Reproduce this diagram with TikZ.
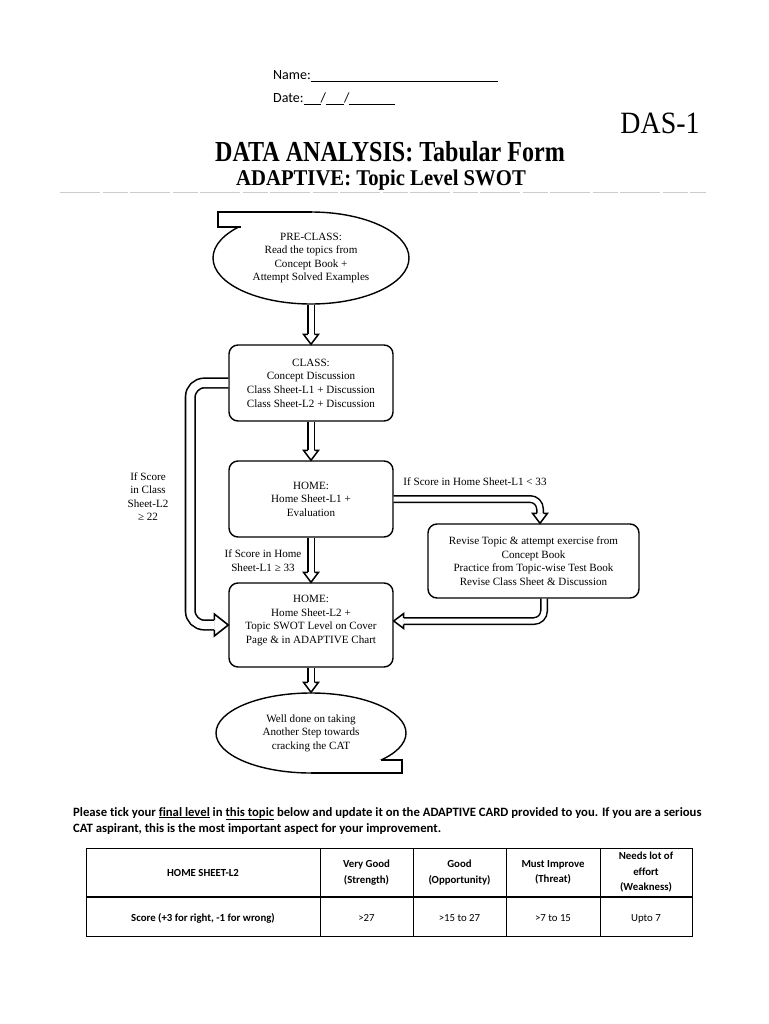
\documentclass[tikz,border=0pt]{standalone}
\usepackage{fontspec}
\usepackage{graphicx}
\setmainfont{Liberation Serif}
\newfontfamily\calib[Ligatures=NoCommon]{Carlito}
\usetikzlibrary{shapes.geometric,calc}
\newcommand\myrule[1]{\rule[-1.8pt]{#1}{0.6pt}}
\newcommand\fsz{\fontsize{11.1}{13.6}\selectfont}
\newcommand\tsz{\calib\fontsize{10.8}{15.5}\selectfont}
\begin{document}
\begin{tikzpicture}[x=1pt,y=-1pt,
  box/.style={draw, line width=1.4pt, rounded corners=9pt, align=center, font=\fsz, inner sep=2pt},
  oval/.style={draw, ellipse, line width=1.4pt, align=center, font=\fsz, inner sep=0pt},
  lbl/.style={align=center, font=\fsz, inner sep=0pt},
  shaft/.style={draw, line width=1.5pt, double=white, double distance=5pt},
  loopshaft/.style={draw, line width=1.6pt, double=white, double distance=8pt},
  cell/.style={align=center, font=\tsz, inner sep=0pt},
  pics/smallhead/.style={code={\draw[line width=1.5pt, fill=white, line join=miter] (-3.25,-10) -- (-7.5,-10) -- (0,0) -- (7.5,-10) -- (3.25,-10);}},
  pics/bighead/.style={code={\draw[line width=1.6pt, fill=white, line join=miter] (-4.8,-14) -- (-11,-14) -- (0,0) -- (11,-14) -- (4.8,-14);}}
]
\useasboundingbox[fill=white] (0,0) rectangle (768,1024);

% header
\node[anchor=base west, font=\calib\fontsize{14}{16}\selectfont, inner sep=0pt] (name) at (273,80) {Name:\myrule{187pt}};
\node[anchor=base west, font=\calib\fontsize{14}{16}\selectfont, inner sep=0pt] (date) at (273,103) {Date:\myrule{17pt}/\myrule{18pt}/\myrule{46pt}};
\node[anchor=base, font=\fontsize{31}{31}\selectfont, inner sep=0pt] (das) at (660,134) {\scalebox{0.9}[1]{DAS-1}};
\node[anchor=base, font=\bfseries\fontsize{29}{29}\selectfont, inner sep=0pt] (title) at (390,162) {\scalebox{0.83}[1]{DATA ANALYSIS: Tabular Form}};
\node[anchor=base, font=\bfseries\fontsize{22.5}{22.5}\selectfont, inner sep=0pt] (subtitle) at (381,186) {\scalebox{0.92}[1]{ADAPTIVE: Topic Level SWOT}};
\draw[gray!40, line width=0.7pt, dash pattern=on 40pt off 3pt on 25pt off 2pt] (60,192) -- (706,192);

% flowchart nodes
\node[oval, minimum width=196pt, minimum height=92pt] (pre) at (311,258) {PRE-CLASS:\\Read the topics from\\Concept Book +\\Attempt Solved Examples};
\fill[white] (218.8,212.8) -- (312,212.8) -- (240,228.2) -- cycle;
\draw[line width=1.4pt] (312,212) -- (218,212) -- (218,227) -- (241,227);

\node[box, minimum width=164pt, minimum height=76pt] (class) at (311,383) {CLASS:\\Concept Discussion\\Class Sheet-L1 + Discussion\\Class Sheet-L2 + Discussion};
\node[box, minimum width=164pt, minimum height=76pt] (home1) at (311,499) {HOME:\\Home Sheet-L1 +\\Evaluation};
\node[box, minimum width=164pt, minimum height=84pt] (home2) at (311,625) {HOME:\\Home Sheet-L2 +\\Topic SWOT Level on Cover\\Page \& in ADAPTIVE Chart\\[-2pt]~};
\node[box, minimum width=211pt, minimum height=74pt] (revise) at (533.5,561) {Revise Topic \& attempt exercise from\\Concept Book\\Practice from Topic-wise Test Book\\Revise Class Sheet \& Discussion};

\node[oval, minimum width=190pt, minimum height=80pt] (fin) at (311,733) {Well done on taking\\Another Step towards\\cracking the CAT};
\fill[white] (311,772.2) -- (401.2,772.2) -- (382,759.3) -- cycle;
\draw[line width=1.4pt] (311,773) -- (402,773) -- (402,760) -- (381,760);

% labels
\node[lbl] (l1) at (475,482) {If Score in Home Sheet-L1 < 33};
\node[lbl] (l2) at (263,560.5) {If Score in Home\\Sheet-L1 ≥ 33};
\node[lbl] (l3) at (148,496.5) {If Score\\in Class\\Sheet-L2\\≥ 22};

% connectors
\draw[shaft] (pre.south) -- ($(class.north)+(0,-10)$);
\pic at (class.north) {smallhead};
\draw[shaft] (class.south) -- ($(home1.north)+(0,-10)$);
\pic at (home1.north) {smallhead};
\draw[shaft] (home1.south) -- ($(home2.north)+(0,-10)$);
\pic at (home2.north) {smallhead};
\draw[shaft] (home2.south) -- ($(fin.north)+(0,-10)$);
\pic at (fin.north) {smallhead};

\draw[shaft, rounded corners=10pt] (home1.east) -| ($(revise.north)+(6.5,-10)$);
\pic at ($(revise.north)+(6.5,0)$) {smallhead};

\draw[shaft, rounded corners=10pt] ($(revise.south)+(10.5,0)$) |- ($(home2.east)+(10,-4)$);
\pic[rotate=-90] at ($(home2.east)+(0,-4)$) {smallhead};

\draw[loopshaft, rounded corners=14pt] (class.west) -- ++(-38,0) |- ($(home2.west)+(-14,0)$);
\pic[rotate=90] at (home2.west) {bighead};

% paragraph
\node[anchor=base west, font=\calib\bfseries\fontsize{12.7}{15}\selectfont, inner sep=0pt] (p1) at (73,816) {Please tick your \underline{final level} in \underline{this topic} below and update it on the ADAPTIVE CARD provided to you. If you are a serious};
\node[anchor=base west, font=\calib\bfseries\fontsize{12.7}{15}\selectfont, inner sep=0pt] (p2) at (73,832) {CAT aspirant, this is the most important aspect for your improvement.};

% table
\draw[line width=1pt] (86,848) rectangle (692,936);
\draw[line width=1pt] (320,848) -- (320,936) (413,848) -- (413,936) (506,848) -- (506,936) (600,848) -- (600,936);
\draw[line width=2pt] (86,897) -- (692,897);
\node[cell, font=\tsz\bfseries] (c11) at (203,872.5) {HOME SHEET-L2};
\node[cell, font=\tsz\bfseries] (c12) at (366.5,872.5) {Very Good\\(Strength)};
\node[cell, font=\tsz\bfseries] (c13) at (459.5,872.5) {Good\\(Opportunity)};
\node[cell, font=\tsz\bfseries] (c14) at (553,872.5) {Must Improve\\(Threat)};
\node[cell, font=\tsz\bfseries] (c15) at (646,872.5) {Needs lot of\\effort\\(Weakness)};
\node[cell, font=\tsz\bfseries, anchor=base] (c21) at (203,921.5) {Score (+3 for right, -1 for wrong)};
\node[cell, anchor=base] (c22) at (366.5,921.5) {>27};
\node[cell, anchor=base] (c23) at (459.5,921.5) {>15 to 27};
\node[cell, anchor=base] (c24) at (553,921.5) {>7 to 15};
\node[cell, anchor=base] (c25) at (646,921.5) {Upto 7};
\end{tikzpicture}
\end{document}
